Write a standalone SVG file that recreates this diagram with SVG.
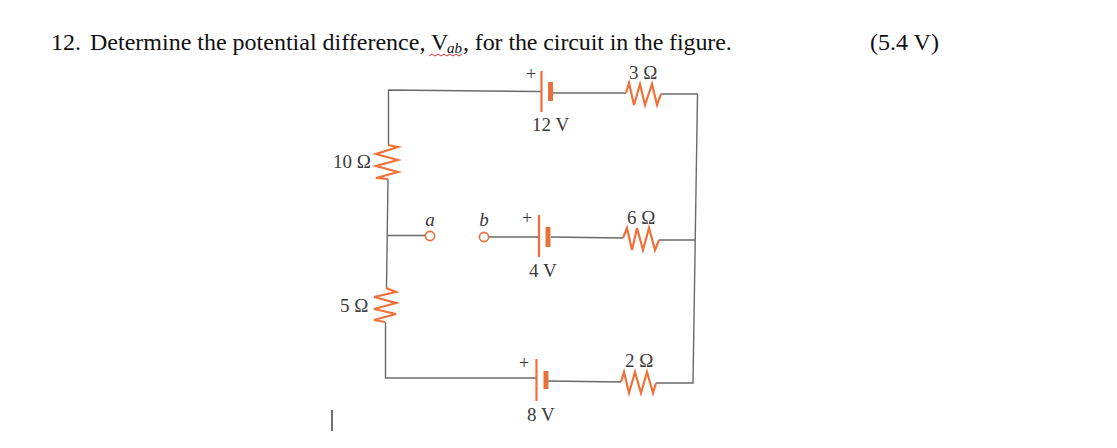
<svg xmlns="http://www.w3.org/2000/svg" width="1117" height="448" viewBox="0 0 1117 448">
<style>
text{font-family:"Liberation Serif","Times New Roman",serif}
.q{font-size:24px;fill:#111}
.l{font-size:19px;fill:#3a3a3a}
.p{font-size:18px;fill:#3a3a3a}
.w{fill:none;stroke:#6a6a6a;stroke-width:1.4}
.r{fill:none;stroke:#f0703a;stroke-width:2.2;stroke-linejoin:miter}
.bl{stroke:#ee6f3c;stroke-width:2.2}
.bs{stroke:#e8703a;stroke-width:5}
.t{fill:#fff;stroke:#ef6c35;stroke-width:1.6}
</style>
<rect width="1117" height="448" fill="#fff"/>
<g id="question">
<text class="q" x="51" y="50">12.</text>
<text class="q" x="90" y="50">Determine the potential difference, V</text>
<text x="447" y="53" font-size="15" font-style="italic" fill="#111">ab</text>
<text class="q" x="463" y="50" letter-spacing="-0.1">, for the circuit in the figure.</text>
<path d="M429 56l3-2 3 2 3-2 3 2 3-2 3 2 3-2 3 2 3-2 3 2 3-2" fill="none" stroke="#d33" stroke-width="1"/>
</g>
<text id="answer" class="q" x="870" y="50">(5.4 V)</text>
<g id="connectors">
<path class="w" d="M541 91.500L388.500 90V145"/>
<path class="w" d="M553 93H626"/>
<path class="w" d="M661 94H697.500L693 383H656"/>
<path class="w" d="M551 237L623 238"/>
<path class="w" d="M659 240H695"/>
<path class="w" d="M539 237H488.500"/>
<path class="w" d="M388 179L386.500 288"/>
<path class="w" d="M385.500 322V378H537"/>
<path class="w" d="M387 235.500H425.500"/>
<path class="w" d="M548 381L621 382"/>
</g>
<g id="r-3"><path class="r" d="M626 93L629 83L634 105L640 84L645 105L652 84L657 105L661 94"/><text class="l" x="629" y="79">3 Ω</text></g>
<g id="r-6"><path class="r" d="M623 238L627 228L632 250L637 228L643 250L649 228L655 250L659 240"/><text class="l" x="627" y="224">6 Ω</text></g>
<g id="r-2"><path class="r" d="M621 382L624 372L629 393L635 372L641 393L647 372L653 393L656 383"/><text class="l" x="625" y="367">2 Ω</text></g>
<g id="r-10"><path class="r" d="M388 145L398 147L376 154L398 160L376 166L398 172L376 178L388 179"/><text class="l" x="333" y="168">10 Ω</text></g>
<g id="r-5"><path class="r" d="M386 288L396 292L374 297L396 303L374 309L396 314L374 320L385 322"/><text class="l" x="340" y="312">5 Ω</text></g>
<g id="b-12"><line class="bl" x1="541.500" y1="71" x2="541.500" y2="112"/><line class="bs" x1="550.500" y1="82" x2="550.500" y2="101"/><text class="p" x="526" y="80">+</text><text class="l" x="532" y="131">12 V</text></g>
<g id="b-4"><line class="bl" x1="539" y1="215" x2="539" y2="257"/><line class="bs" x1="548" y1="227" x2="548" y2="247"/><text class="p" x="522" y="224">+</text><text class="l" x="529" y="277">4 V</text></g>
<g id="b-8"><line class="bl" x1="536.500" y1="359" x2="536.500" y2="401"/><line class="bs" x1="546" y1="371" x2="546" y2="389"/><text class="p" x="519" y="369">+</text><text class="l" x="527" y="421">8 V</text></g>
<g id="terminal-a"><circle class="t" cx="430" cy="236" r="4.600"/><text class="l" x="430" y="226" text-anchor="middle" font-style="italic">a</text></g>
<g id="terminal-b"><circle class="t" cx="484" cy="237" r="4.600"/><text class="l" x="484" y="226" text-anchor="middle" font-style="italic">b</text></g>
<line id="cursor" x1="332" y1="410" x2="332" y2="431" stroke="#111" stroke-width="1.200"/>
</svg>
